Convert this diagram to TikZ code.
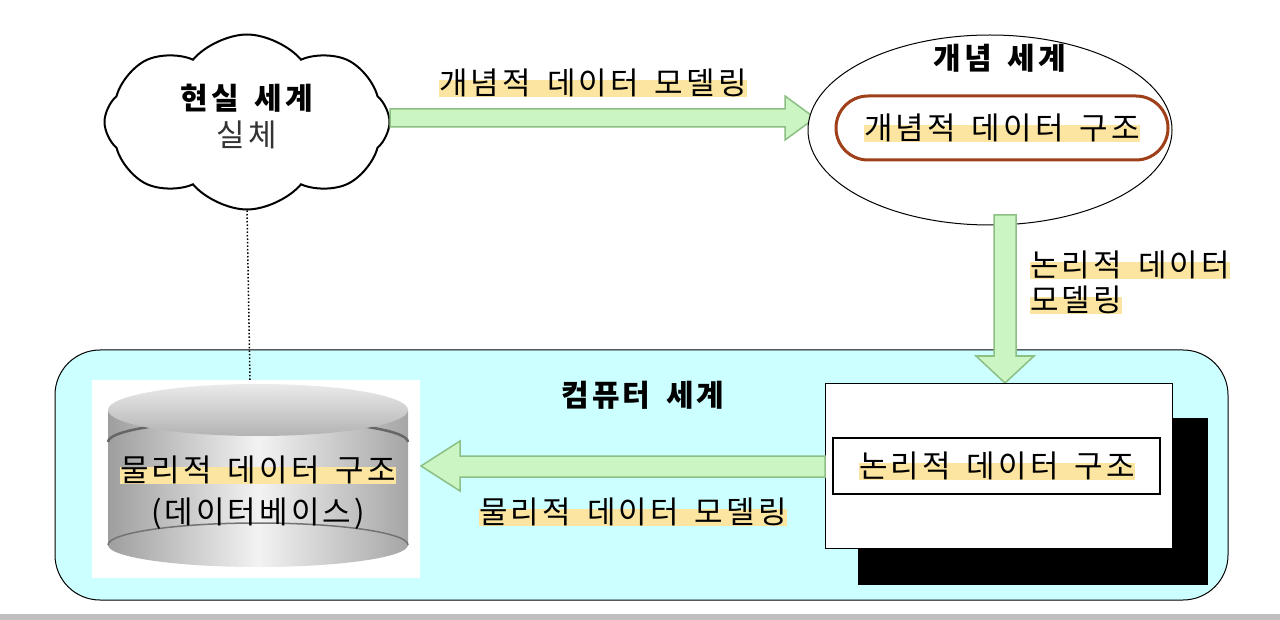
\documentclass[tikz,border=0pt]{standalone}
\usepackage{fontspec}
\usetikzlibrary{shapes.symbols}
\newfontfamily\kr[LetterSpace=10,WordSpace=1.6]{Noto Sans CJK KR}
\definecolor{hlc}{HTML}{FBE5A0}
\definecolor{arrf}{HTML}{CCF5C4}
\definecolor{arrd}{HTML}{8CBF84}
\definecolor{cyanbg}{HTML}{CCFFFF}
\definecolor{brownb}{HTML}{A0401A}
\newcommand\hlt[1]{\setbox0\hbox{#1}\rlap{\color{hlc}\rule[-0.15ex]{\wd0}{1.0ex}}\box0}
\begin{document}
\begin{tikzpicture}[x=1pt,y=-1pt,
  txt/.style={font=\kr\fontsize{31}{36}\selectfont,inner sep=0},
  btxt/.style={font=\kr\fontsize{30}{36}\selectfont\bfseries,inner sep=0},
  fat/.style={fill=arrf,draw=arrd,line width=1.5pt,line join=miter}]
\useasboundingbox (0,0) rectangle (1280,620);
\fill[white] (0,0) rectangle (1280,620);
\fill[black!25] (0,614) rectangle (1280,620);
% computer world
\draw[fill=cyanbg,line width=1pt,rounded corners=45] (55,350) rectangle (1228,600);
\node[btxt] (cw) at (643,395) {컴퓨터 세계};
% cloud
\node[cloud,draw,line width=2pt,fill=white,cloud puffs=8,cloud puff arc=100,aspect=1.8,minimum width=285,minimum height=175] (cloud) at (247,122) {};
\node[btxt] (rw) at (247,98) {현실 세계};
\node[txt,text=black!80] (ent) at (247,135) {실체};
% arrow 1
\draw[fat] (390,109) -- (785,109) -- (785,96) -- (815,118) -- (785,140) -- (785,127) -- (390,127) -- cycle;
\node[txt] (l1) at (593,83) {\hlt{개념적 데이터 모델링}};
% ellipse
\draw[line width=1pt,fill=white] (990,130) ellipse [x radius=182,y radius=95];
\node[btxt] (cwl) at (1000,58) {개념 세계};
\draw[brownb,line width=3pt,rounded corners=32] (836,96) rectangle (1168,160);
\node[txt] (cds) at (1002,128) {\hlt{개념적 데이터 구조}};
% down arrow
\draw[fat] (994,215) -- (1016,215) -- (1016,356) -- (1034,356) -- (1005,383) -- (976,356) -- (994,356) -- cycle;
\node[txt,anchor=west,align=left] (l2a) at (1030,265) {\hlt{논리적 데이터}};
\node[txt,anchor=west,align=left] (l2b) at (1030,300) {\hlt{모델링}};
% logical box
\fill[black] (858,418) rectangle (1208,585);
\draw[fill=white,line width=1pt] (825,383) rectangle (1172,548);
\draw[line width=2pt] (833,438) rectangle (1160,494);
\node[txt] (lds) at (997,466) {\hlt{논리적 데이터 구조}};
% left arrow
\draw[fat] (825,456) -- (460,456) -- (460,441) -- (421,466) -- (460,491) -- (460,477) -- (825,477) -- cycle;
\node[txt] (l3) at (633,512) {\hlt{물리적 데이터 모델링}};
% cylinder
\fill[white] (92,380) rectangle (420,578);
\shade[left color=black!38,right color=black!35,middle color=black!5] (258,545) ellipse [x radius=150,y radius=22];
\shade[left color=black!38,right color=black!35,middle color=black!5] (108,410) rectangle (408,545);
\draw[black!55,line width=1.5pt] (108,545) arc[start angle=180,end angle=360,x radius=150,y radius=22];
\draw[black!60,line width=2.5pt] (108,442) arc[start angle=180,end angle=360,x radius=150,y radius=22];
\shade[top color=black!8,bottom color=black!30] (258,410) ellipse [x radius=150,y radius=26];
\node[txt] (pds) at (258,470) {\hlt{물리적 데이터 구조}};
\node[txt] (db) at (258,514) {(데이터베이스)};
% dotted
\draw[dotted,line width=1.5pt] (cloud.south) -- (250,380);
\end{tikzpicture}
\end{document}
